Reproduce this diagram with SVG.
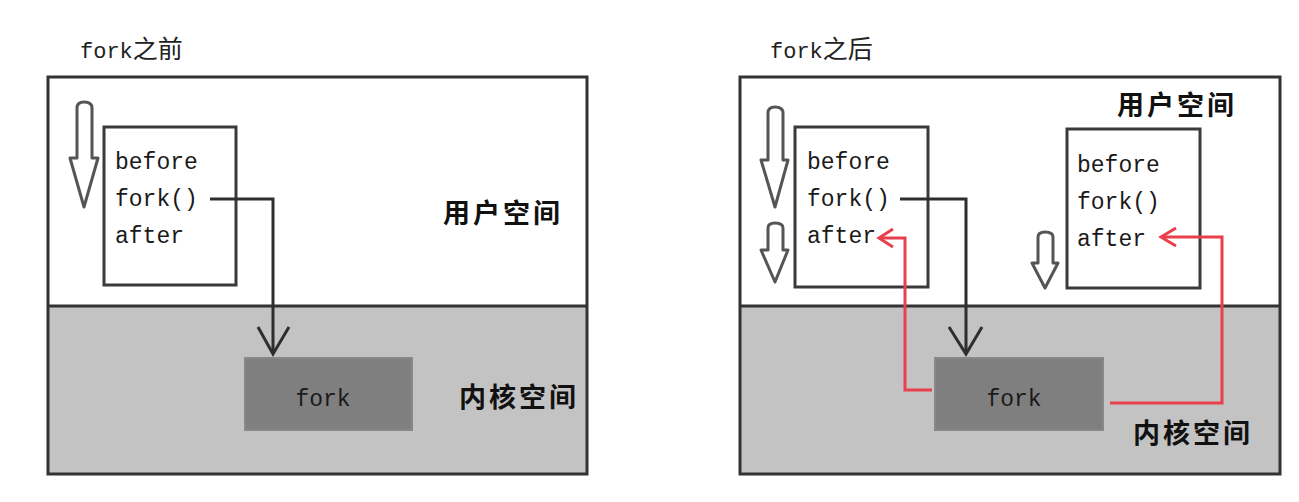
<svg xmlns="http://www.w3.org/2000/svg" width="1299" height="502" viewBox="0 0 1299 502">
<defs>
<style>
.code{font-family:"Liberation Mono","DejaVu Sans Mono",monospace;font-size:23px;fill:#1a1a1a}
.title{font-family:"Liberation Mono","Noto Sans CJK SC",monospace;font-size:22px;fill:#222}
.cjk{font-family:"Noto Sans CJK SC",sans-serif;font-size:25px}
.zone{font-family:"Noto Sans CJK SC","Noto Sans",sans-serif;font-size:27px;font-weight:bold;fill:#111;letter-spacing:3px}
.frame{fill:none;stroke:#333;stroke-width:3}
.box{fill:#fff;stroke:#3a3a3a;stroke-width:3}
.kbox{fill:#7f7f7f;stroke:#888;stroke-width:2}
.flow{fill:none;stroke:#2e2e2e;stroke-width:3}
.red{fill:none;stroke:#e8404c;stroke-width:3}
.harrow{fill:#fff;stroke:#555;stroke-width:3;stroke-linejoin:round}
</style>
</defs>

<!-- Left panel -->
<g id="panel-before">
<text class="title" x="80" y="58">fork<tspan class="cjk">之前</tspan></text>
<rect x="48" y="306" width="539" height="168" fill="#c3c3c3"/>
<rect class="frame" x="48" y="77" width="539" height="397"/>
<line x1="48" y1="306" x2="587" y2="306" stroke="#333" stroke-width="3"/>
<text class="zone" x="443" y="223">用户空间</text>
<text class="zone" x="459" y="407">内核空间</text>
</g>
<g id="code-before">
<rect class="box" x="104" y="127" width="132" height="158"/>
<text class="code" x="115" y="169">before</text>
<text class="code" x="115" y="206">fork()</text>
<text class="code" x="115" y="243">after</text>
</g>
<g id="arrow-before">
<path class="harrow" d="M77,108 Q77,102 84,102 Q92,102 92,108 L92,158 L98,158 L84,207 L70,158 L77,158 Z"/>
</g>
<g id="kernel-before">
<rect class="kbox" x="245" y="358" width="167" height="72"/>
<text class="code" x="323" y="406" text-anchor="middle">fork</text>
</g>

<!-- Right panel -->
<g id="panel-after">
<text class="title" x="770" y="58">fork<tspan class="cjk">之后</tspan></text>
<rect x="740" y="306" width="540" height="168" fill="#c3c3c3"/>
<rect class="frame" x="740" y="77" width="540" height="397"/>
<line x1="740" y1="306" x2="1280" y2="306" stroke="#333" stroke-width="3"/>
<text class="zone" x="1117" y="115">用户空间</text>
<text class="zone" x="1133" y="443">内核空间</text>
</g>
<g id="code-parent">
<rect class="box" x="795" y="127" width="133" height="160"/>
<text class="code" x="807" y="169">before</text>
<text class="code" x="807" y="206">fork()</text>
<text class="code" x="807" y="243">after</text>
</g>
<g id="code-child">
<rect class="box" x="1067" y="129" width="133" height="159"/>
<text class="code" x="1077" y="172">before</text>
<text class="code" x="1077" y="209">fork()</text>
<text class="code" x="1077" y="246">after</text>
</g>
<g id="arrows-after">
<path class="harrow" d="M768,113 Q768,107 775,107 Q783,107 783,113 L783,160 L788,160 L775,207 L761,160 L768,160 Z"/>
<path class="harrow" d="M768,228 Q768,223 775,223 Q783,223 783,228 L783,250 L788,250 L775,282 L761,250 L768,250 Z"/>
<path class="harrow" d="M1038,237 Q1038,232 1045,232 Q1053,232 1053,237 L1053,263 L1058,263 L1045,288 L1032,263 L1038,263 Z"/>
</g>
<g id="kernel-after">
<rect class="kbox" x="935" y="358" width="168" height="72"/>
<text class="code" x="1014" y="406" text-anchor="middle">fork</text>
</g>

<!-- Connectors -->
<g id="connectors">
<path class="flow" d="M210,199 L273,199 L273,353"/>
<path class="flow" d="M258,327 L273,354 L289,327"/>
<path class="flow" d="M900,199 L966,199 L966,353"/>
<path class="flow" d="M949,327 L966,354 L982,327"/>
<path class="red" d="M932,390 L905,390 L905,238 L880,238"/>
<path class="red" d="M893,229 L879,238 L893,247"/>
<path class="red" d="M1110,403 L1222,403 L1222,237 L1162,237"/>
<path class="red" d="M1176,228 L1161,237 L1176,246"/>
</g>
</svg>
